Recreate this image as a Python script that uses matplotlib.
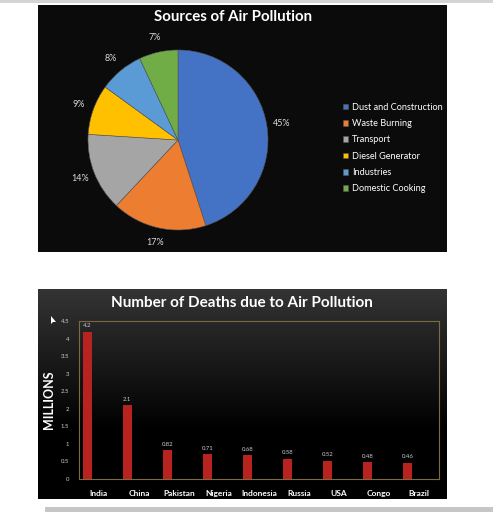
import numpy as np
import matplotlib
matplotlib.use("Agg")
import matplotlib.pyplot as plt
import matplotlib.patches as patches

plt.rcParams['font.family'] = ['Lato', 'DejaVu Sans']

# data
sources = ["Dust and Construction", "Waste Burning", "Transport",
           "Diesel Generator", "Industries", "Domestic Cooking"]
shares = [45, 17, 14, 9, 8, 7]
pie_colors = ["#4472C4", "#ED7D31", "#A5A5A5", "#FFC000", "#5B9BD5", "#70AD47"]

countries = ["India", "China", "Pakistan", "Nigeria", "Indonesia",
             "Russia", "USA", "Congo", "Brazil"]
deaths = [4.2, 2.1, 0.82, 0.71, 0.68, 0.58, 0.52, 0.48, 0.46]
yticks = [0, 0.5, 1, 1.5, 2, 2.5, 3, 3.5, 4, 4.5]

W, H = 493, 512
fig = plt.figure(figsize=(W / 100, H / 100), dpi=100)
fig.patch.set_facecolor("white")


def box(x0, y0, x1, y1):
    # pixel box (top-left origin) -> figure fraction rect
    return [x0 / W, 1 - y1 / H, (x1 - x0) / W, (y1 - y0) / H]


# page decorations
fig.add_artist(patches.Rectangle((0, 1 - 2.5 / H), 1, 2.5 / H, transform=fig.transFigure,
                                 facecolor="#d4d4d4", edgecolor="none"))
fig.add_artist(patches.Rectangle((45 / W, 0), 1, 5 / H, transform=fig.transFigure,
                                 facecolor="#c6c6c6", edgecolor="none"))

# ---------- top panel: pie ----------
bg1 = fig.add_axes(box(38, 5, 447, 252))
bg1.set_facecolor("#0b0b0b")
bg1.set_xticks([])
bg1.set_yticks([])
for s in bg1.spines.values():
    s.set_visible(False)

fig.text(233 / W, 1 - 17 / H, "Sources of Air Pollution", color="white",
         fontsize=10.8, fontweight="bold", ha="center", va="center")

r = 90
ax1 = fig.add_axes(box(178 - r, 140 - r, 178 + r, 140 + r))
wedges, texts, autotexts = ax1.pie(
    shares, colors=pie_colors, startangle=90, counterclock=False,
    autopct="%d%%", pctdistance=1.17, radius=1,
    wedgeprops=dict(edgecolor="#555555", linewidth=0.4),
    textprops=dict(color="#d9d9d9", fontsize=6.5))
ax1.set_xlim(-1, 1)
ax1.set_ylim(-1, 1)
ax1.set_aspect("equal")
ax1.axis("off")

ax1.legend(wedges, sources, loc="center left",
           bbox_to_anchor=(339 / W, 1 - 148 / H), bbox_transform=fig.transFigure,
           frameon=False, labelcolor="white", fontsize=6.6,
           handlelength=0.6, handleheight=0.6, handletextpad=0.4,
           labelspacing=0.8, borderaxespad=0)

# ---------- bottom panel: bars ----------
bg2 = fig.add_axes(box(38, 289, 447, 499))
grad = np.linspace(0.19, 0.0, 256)
grad = np.clip(grad * 1.6 - 0.1, 0, 1)
bg2.imshow(np.dstack([grad, grad, grad])[:, None, :].reshape(256, 1, 3),
           aspect="auto", extent=[0, 1, 0, 1], origin="upper")
bg2.set_xticks([])
bg2.set_yticks([])
for s in bg2.spines.values():
    s.set_visible(False)

fig.text(242 / W, 1 - 303 / H, "Number of Deaths due to Air Pollution", color="white",
         fontsize=11, fontweight="bold", ha="center", va="center")

ax2 = fig.add_axes(box(79, 321, 439, 479))
ax2.patch.set_alpha(0)
x = np.arange(len(countries))
ax2.bar(x - 0.29, deaths, width=0.24, color="#B8221F")
for xi, v in zip(x, deaths):
    ax2.text(xi - 0.29, v + 0.1, f"{v:g}", color="#cccccc", fontsize=4.3,
             ha="center", va="bottom")
ax2.set_xlim(-0.5, len(countries) - 0.5)
ax2.set_ylim(0, 4.5)
ax2.set_yticks(yticks)
ax2.set_yticklabels([f"{t:g}" for t in yticks])
ax2.set_xticks(x)
ax2.set_xticklabels(countries, fontweight="bold")
ax2.tick_params(axis="y", length=0, pad=7, labelsize=4.3, labelcolor="#cccccc")
ax2.tick_params(axis="x", length=0, pad=8, labelsize=6, labelcolor="white")
for s in ax2.spines.values():
    s.set_color("#7d6b3f")
    s.set_linewidth(0.8)
ax2.set_ylabel("MILLIONS", color="white", fontsize=9, fontweight="bold", labelpad=4)

# mouse pointer left in the screenshot
fig.add_artist(patches.Polygon([(51 / W, 1 - 316 / H), (51 / W, 1 - 324 / H),
                                (53 / W, 1 - 322 / H), (56 / W, 1 - 322 / H)],
                               closed=True, transform=fig.transFigure,
                               facecolor="white", edgecolor="none"))

fig.savefig("out.png", dpi=100)
